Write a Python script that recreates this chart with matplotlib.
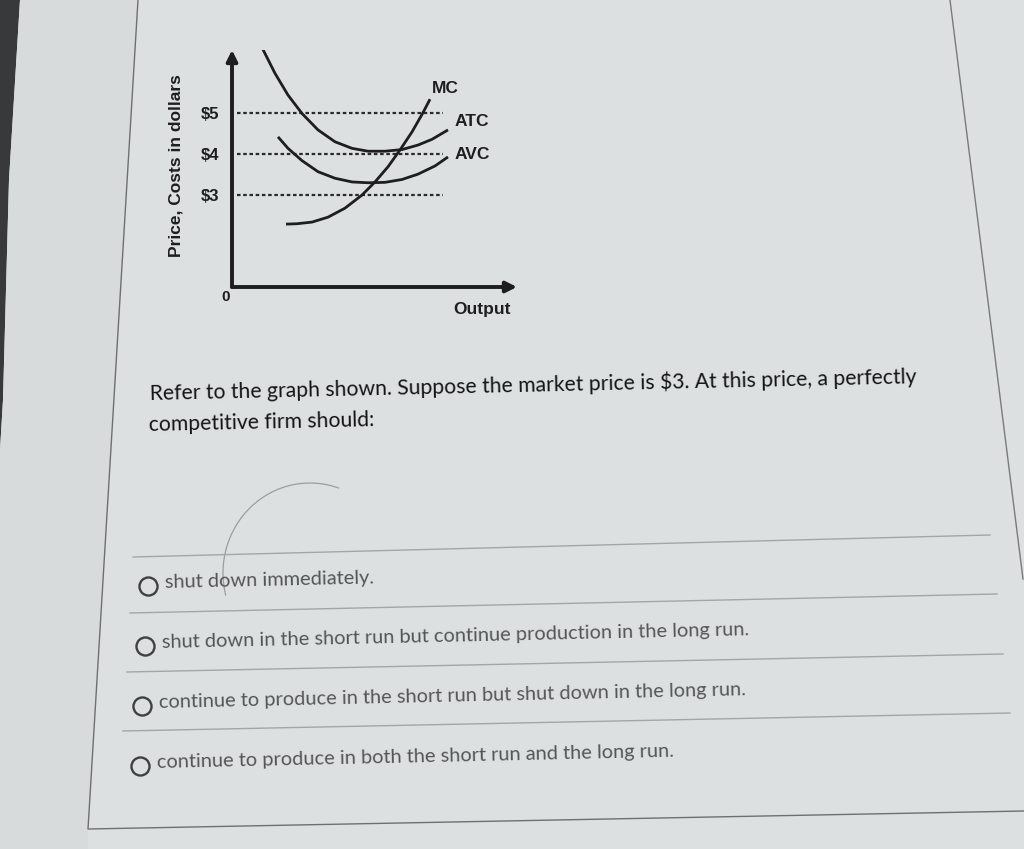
import matplotlib.pyplot as plt
from matplotlib.patches import Arc, Polygon

plt.rcParams['text.parse_math'] = False

# cost curves (output units, price in dollars)
output_atc = [3.0, 4.3, 5.6, 7.0, 8.6, 10.3, 12.0, 13.6, 15.3, 17.0, 18.6, 20.0, 21.6]
atc = [6.60, 5.97, 5.44, 4.99, 4.59, 4.30, 4.14, 4.07, 4.07, 4.11, 4.22, 4.36, 4.59]
output_avc = [4.6, 5.6, 7.0, 8.6, 10.3, 12.0, 13.6, 15.3, 17.0, 18.6, 20.3, 21.6]
avc = [4.42, 4.14, 3.84, 3.57, 3.41, 3.32, 3.30, 3.31, 3.38, 3.51, 3.71, 3.93]
output_mc = [5.4, 6.5, 8.0, 9.6, 11.3, 13.0, 14.3, 15.6, 16.8, 18.0, 19.1, 19.8]
mc = [2.29, 2.30, 2.34, 2.46, 2.68, 3.00, 3.32, 3.69, 4.10, 4.54, 5.01, 5.34]
price_levels = [3, 4, 5]
price_labels = ['$3', '$4', '$5']
curve_names = ['MC', 'ATC', 'AVC']

question = ["Refer to the graph shown. Suppose the market price is $3. At this price, a perfectly",
            "competitive firm should:"]
options = ["shut down immediately.",
           "shut down in the short run but continue production in the long run.",
           "continue to produce in the short run but shut down in the long run.",
           "continue to produce in both the short run and the long run."]

narrow = ['Liberation Sans Narrow', 'Liberation Sans', 'DejaVu Sans']
ink = '#1e1e1e'

fig = plt.figure(figsize=(10.24, 8.49), dpi=100)
fig.patch.set_facecolor('#dde0e1')

# ---------- page / screen background (pixel coordinates) ----------
bg = fig.add_axes([0, 0, 1, 1])
bg.set_xlim(0, 1024)
bg.set_ylim(849, 0)
bg.axis('off')

bg.add_patch(Polygon([(0, 0), (20, 0), (9, 180), (3, 400), (0, 450)],
                     closed=True, color='#38393b', lw=0))
bg.add_patch(Polygon([(20, 0), (138, 0), (88, 830), (88, 849), (0, 849), (0, 450), (3, 400), (9, 180)],
                     closed=True, color='#d8dbdc', lw=0))

# card border
bg.plot([138, 88, 1024], [0, 829, 811], color='#6f6f70', lw=1.0)
bg.plot([950, 1023], [0, 579], color='#7a7a7b', lw=1.0)

# separators between answer choices
for x0, y0, x1, y1 in [(133, 557, 990, 535), (130, 613, 997, 594),
                       (127, 672, 1003, 654), (123, 731, 1010, 713)]:
    bg.plot([x0, x1], [y0, y1], color='#a4a5a7', lw=1.0)

# stray arc mark on the screen
bg.add_patch(Arc((310, 573), 174, 180, theta1=165, theta2=289, color='#9c9d9f', lw=0.9))

# question text
bg.text(150, 393, question[0], family='Lato', fontsize=15.2, color='#141414',
        ha='left', va='center', rotation=1.25, rotation_mode='anchor')
bg.text(149, 425, question[1], family='Lato', fontsize=15.2, color='#141414',
        ha='left', va='center', rotation=1.25, rotation_mode='anchor')

# answer choices
for i, (txt, (cx, cy)) in enumerate(zip(options, [(148, 586), (145, 646), (142, 706), (140, 766)])):
    bg.plot(cx, cy, marker='o', ms=13, mfc='none', mec='#404040', mew=1.7)
    bg.text(cx + 17, cy - 3, txt, family='Lato', fontsize=14.4,
            color='#555555', ha='left', va='center', rotation=1.25, rotation_mode='anchor')

# ---------- cost curve graph ----------
ax = fig.add_axes([232 / 1024, (849 - 287) / 849, 285 / 1024, (287 - 50) / 849])
ax.patch.set_alpha(0)
ax.set_xlim(0, 28.5)
ax.set_ylim(0.756, 6.54)
for s in ax.spines.values():
    s.set_visible(False)
ax.set_xticks([])
ax.set_yticks(price_levels, price_labels)
ax.tick_params(length=0, pad=9)
for t in ax.get_yticklabels():
    t.set_family(narrow)
    t.set_fontweight('bold')
    t.set_fontsize(12)
    t.set_color(ink)

for lvl in price_levels:
    ax.hlines(lvl, 0.5, 21.1, color='#2a2a2a', lw=1.6, linestyles=(0, (1.6, 1.2)))

ax.plot(output_mc, mc, color=ink, lw=2.0, solid_capstyle='butt', solid_joinstyle='round')
ax.plot(output_atc, atc, color=ink, lw=2.0, solid_capstyle='butt', solid_joinstyle='round')
ax.plot(output_avc, avc, color=ink, lw=2.0, solid_capstyle='butt', solid_joinstyle='round')

for name, (qx, py) in zip(curve_names, [(20.0, 5.61), (22.3, 4.80), (22.3, 3.98)]):
    ax.text(qx, py, name, family=narrow, fontweight='bold', fontsize=12.5, color=ink,
            ha='left', va='center')

arrow = dict(arrowstyle='-|>', lw=2.8, color=ink, mutation_scale=16, shrinkA=0, shrinkB=0)
ax.annotate('', xy=(0, 1), xytext=(0, 0), xycoords='axes fraction', arrowprops=arrow)
ax.annotate('', xy=(1, 0), xytext=(0, 0), xycoords='axes fraction', arrowprops=arrow)

ax.text(-0.6, 0.51, '0', family=narrow, fontweight='bold', fontsize=11, color=ink,
        ha='center', va='center', clip_on=False)
ax.text(25.0, 0.2, 'Output', family=narrow, fontweight='bold', fontsize=12.5, color=ink,
        ha='center', va='center', clip_on=False)
ax.text(-5.6, 3.73, 'Price, Costs in dollars', family=narrow, fontweight='bold', fontsize=12.5,
        color=ink, rotation=90, ha='center', va='center', clip_on=False)

fig.savefig('out.png', dpi=100, facecolor=fig.get_facecolor())
